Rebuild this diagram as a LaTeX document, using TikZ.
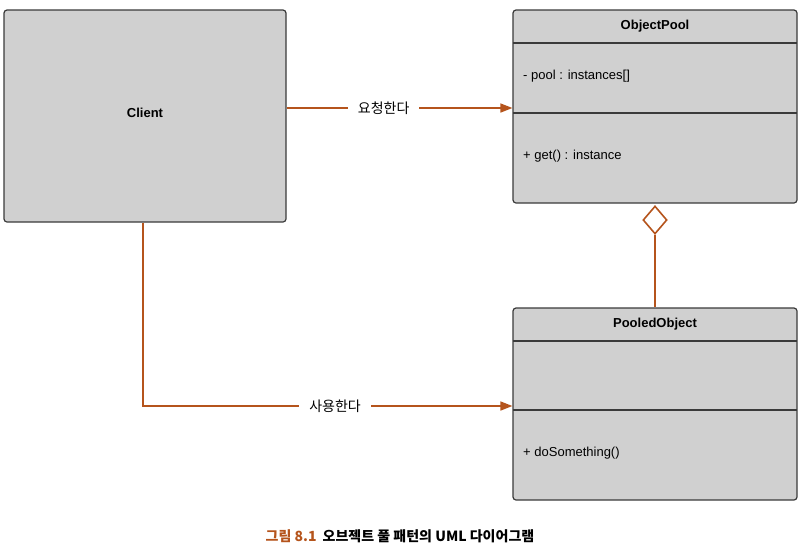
\documentclass[tikz,border=0pt]{standalone}
\usepackage{fontspec}
\setmainfont{Liberation Sans}
\newfontfamily\krfont{Noto Sans CJK KR}
\usetikzlibrary{arrows.meta,shapes.geometric,positioning}
\definecolor{umlfill}{HTML}{D0D0D0}
\definecolor{umledge}{HTML}{3A3A3A}
\definecolor{umlarrow}{HTML}{B5541C}
\begin{document}
\begin{tikzpicture}
    [ x=1pt, y=-1pt,
      font={\fontsize{13}{15}\selectfont},
      classbox/.style={draw=umledge, fill=umlfill, line width=1.2pt,
                       rounded corners=3pt, inner sep=0pt},
      classname/.style={font={\bfseries\fontsize{13}{15}\selectfont}},
      member/.style={anchor=west, inner sep=0pt},
      link/.style={umlarrow, line width=1.6pt},
      dep/.style={link, -{Triangle[length=12pt,width=9pt]}},
      verb/.style={fill=white, text=black, inner xsep=10pt,
                   font={\krfont\fontsize{14}{16}\selectfont}}
    ]
    \useasboundingbox (0,0) rectangle (800,547);

    % Client
    \node[classbox, minimum width=282, minimum height=212] (client) at (145,116) {};
    \node[classname] (clientname) at (145,113) {Client};

    % ObjectPool
    \node[classbox, minimum width=284, minimum height=193] (pool) at (655,106.5) {};
    \draw[umledge, line width=1.2pt] (513,43) -- (797,43) (513,113) -- (797,113);
    \node[classname] (poolname) at (655,26) {ObjectPool};
    \node[member] (poolattr) at (523,76) {- pool : instances[]};
    \node[member] (poolop) at (523,156) {+ get() : instance};

    % PooledObject
    \node[classbox, minimum width=284, minimum height=192] (pooled) at (655,404) {};
    \draw[umledge, line width=1.2pt] (513,341) -- (797,341) (513,410) -- (797,410);
    \node[classname] (pooledname) at (655,324) {PooledObject};
    \node[member] (pooledop) at (523,453) {+ doSomething()};

    % Aggregation
    \node[diamond, draw=umlarrow, fill=white, line width=1.6pt, inner sep=0pt,
          minimum width=24, minimum height=28] (agg) at (655,220) {};
    \draw[link] (agg.south) -- (pooled.north);

    % Connectors
    \coordinate (reqfrom) at (client.east |- 0,108);
    \coordinate (reqto) at (pool.west |- 0,108);
    \draw[dep] (reqfrom) -- (reqto) node[verb, pos=0.43] (req) {요청한다};
    \coordinate (usecorner) at (143,406);
    \coordinate (useto) at (pooled.west |- 0,406);
    \draw[dep] (client.south -| usecorner) -- (usecorner) -- (useto)
        node[verb, pos=0.52] (use) {사용한다};

    % Caption
    \node[font={\krfont\bfseries\fontsize{14}{16}\selectfont}] (caption) at (400,536)
        {\textcolor{umlarrow}{그림 8.1}\hspace{6pt}오브젝트 풀 패턴의 UML 다이어그램};
\end{tikzpicture}
\end{document}
